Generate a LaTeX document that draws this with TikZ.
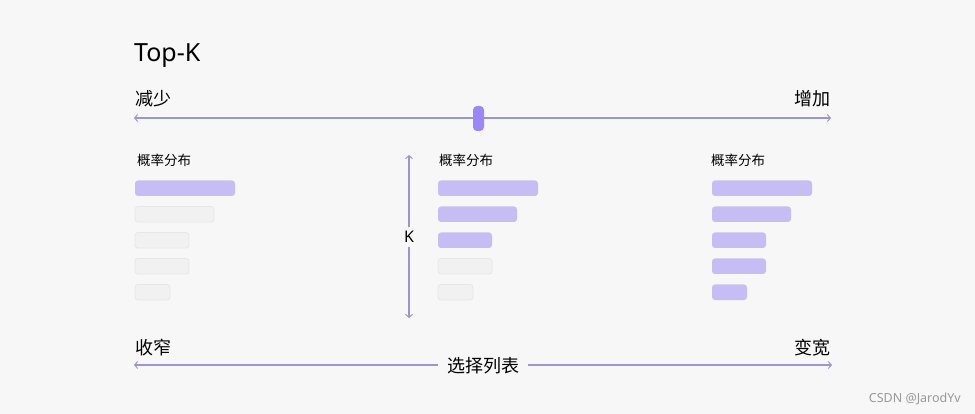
\documentclass[tikz,border=0pt]{standalone}
\usepackage{fontspec}
\setmainfont{Noto Sans}
\newfontfamily\cjk{Noto Sans CJK SC}
\usetikzlibrary{arrows.meta}
\definecolor{bgc}{HTML}{F7F7F7}
\definecolor{axisc}{HTML}{9A96CF}
\definecolor{knobc}{HTML}{9B87F5}
\definecolor{pbarc}{HTML}{C5BDF4}
\definecolor{gbarc}{HTML}{F1F1F1}
\definecolor{gbard}{HTML}{E6E6E6}
\tikzset{
  axis/.style={axisc, line width=1.5pt, arrows={Straight Barb[length=3pt,width=7pt,line width=1pt]-Straight Barb[length=3pt,width=7pt,line width=1pt]}},
  oneaxis/.style={axisc, line width=1.5pt, -{Straight Barb[length=3pt,width=7pt,line width=1pt]}},
  pbar/.style={fill=pbarc, rounded corners=3pt},
  gbar/.style={fill=gbarc, draw=gbard, line width=0.8pt, rounded corners=3pt},
  lbl/.style={inner sep=0pt, font=\cjk\fontsize{18}{20}\selectfont},
  dist/.style={inner sep=0pt, anchor=west, font=\cjk\fontsize{13.5}{15}\selectfont}
}

\begin{document}
\begin{tikzpicture}[x=1pt, y=-1pt]
  \fill[bgc] (0,0) rectangle (975,414);
  \useasboundingbox (0,0) rectangle (975,414);

  \node[inner sep=0pt, anchor=west, font=\fontsize{25}{29}\selectfont] (title) at (134,56) {Top-K};

  % top slider
  \node[lbl, anchor=west] (less) at (135,99) {减少};
  \node[lbl, anchor=east] (more) at (831,99) {增加};
  \coordinate (topL) at (134,118);
  \coordinate (topR) at (831,118);
  \draw[axis] (topL) -- (topR);
  \node[fill=knobc, rounded corners=4pt, minimum width=11pt, minimum height=25pt, inner sep=0pt] (knob) at (478.5,118.5) {};

  % distributions
  \node[dist] (distA) at (137,160) {概率分布};
  \node[dist] (distB) at (439,160) {概率分布};
  \node[dist] (distC) at (711,160) {概率分布};
  \foreach \w/\s [count=\i from 0] in {100/pbar,79/gbar,54/gbar,54/gbar,35/gbar}
    \path[\s] (135,180.5+26*\i) rectangle ++(\w,15.5);
  \foreach \w/\s [count=\i from 0] in {100/pbar,79/pbar,54/pbar,54/gbar,35/gbar}
    \path[\s] (438,180.5+26*\i) rectangle ++(\w,15.5);
  \foreach \w/\s [count=\i from 0] in {100/pbar,79/pbar,54/pbar,54/pbar,35/pbar}
    \path[\s] (712,180.5+26*\i) rectangle ++(\w,15.5);

  % K
  \node[inner sep=0pt, minimum height=19pt, text height=11.5pt, text depth=0pt, font=\fontsize{16}{18}\selectfont] (kk) at (409,237) {K};
  \coordinate (kTop) at (409,155);
  \coordinate (kBot) at (409,318);
  \draw[oneaxis] (kk.north) -- (kTop);
  \draw[oneaxis] (kk.south) -- (kBot);

  % bottom list
  \node[lbl, anchor=west] (narrow) at (135,348) {收窄};
  \node[lbl, anchor=east] (wide) at (831,348) {变宽};
  \node[lbl, inner xsep=9pt, inner ysep=2pt] (list) at (483,366) {选择列表};
  \coordinate (botL) at (134,365);
  \coordinate (botR) at (832,365);
  \draw[oneaxis] (list.west |- botL) -- (botL);
  \draw[oneaxis] (list.east |- botR) -- (botR);

  \node[inner sep=0pt, anchor=east, text=black!40, font=\fontsize{12.5}{14}\selectfont] (mark) at (961,399) {CSDN @JarodYv};
\end{tikzpicture}
\end{document}
